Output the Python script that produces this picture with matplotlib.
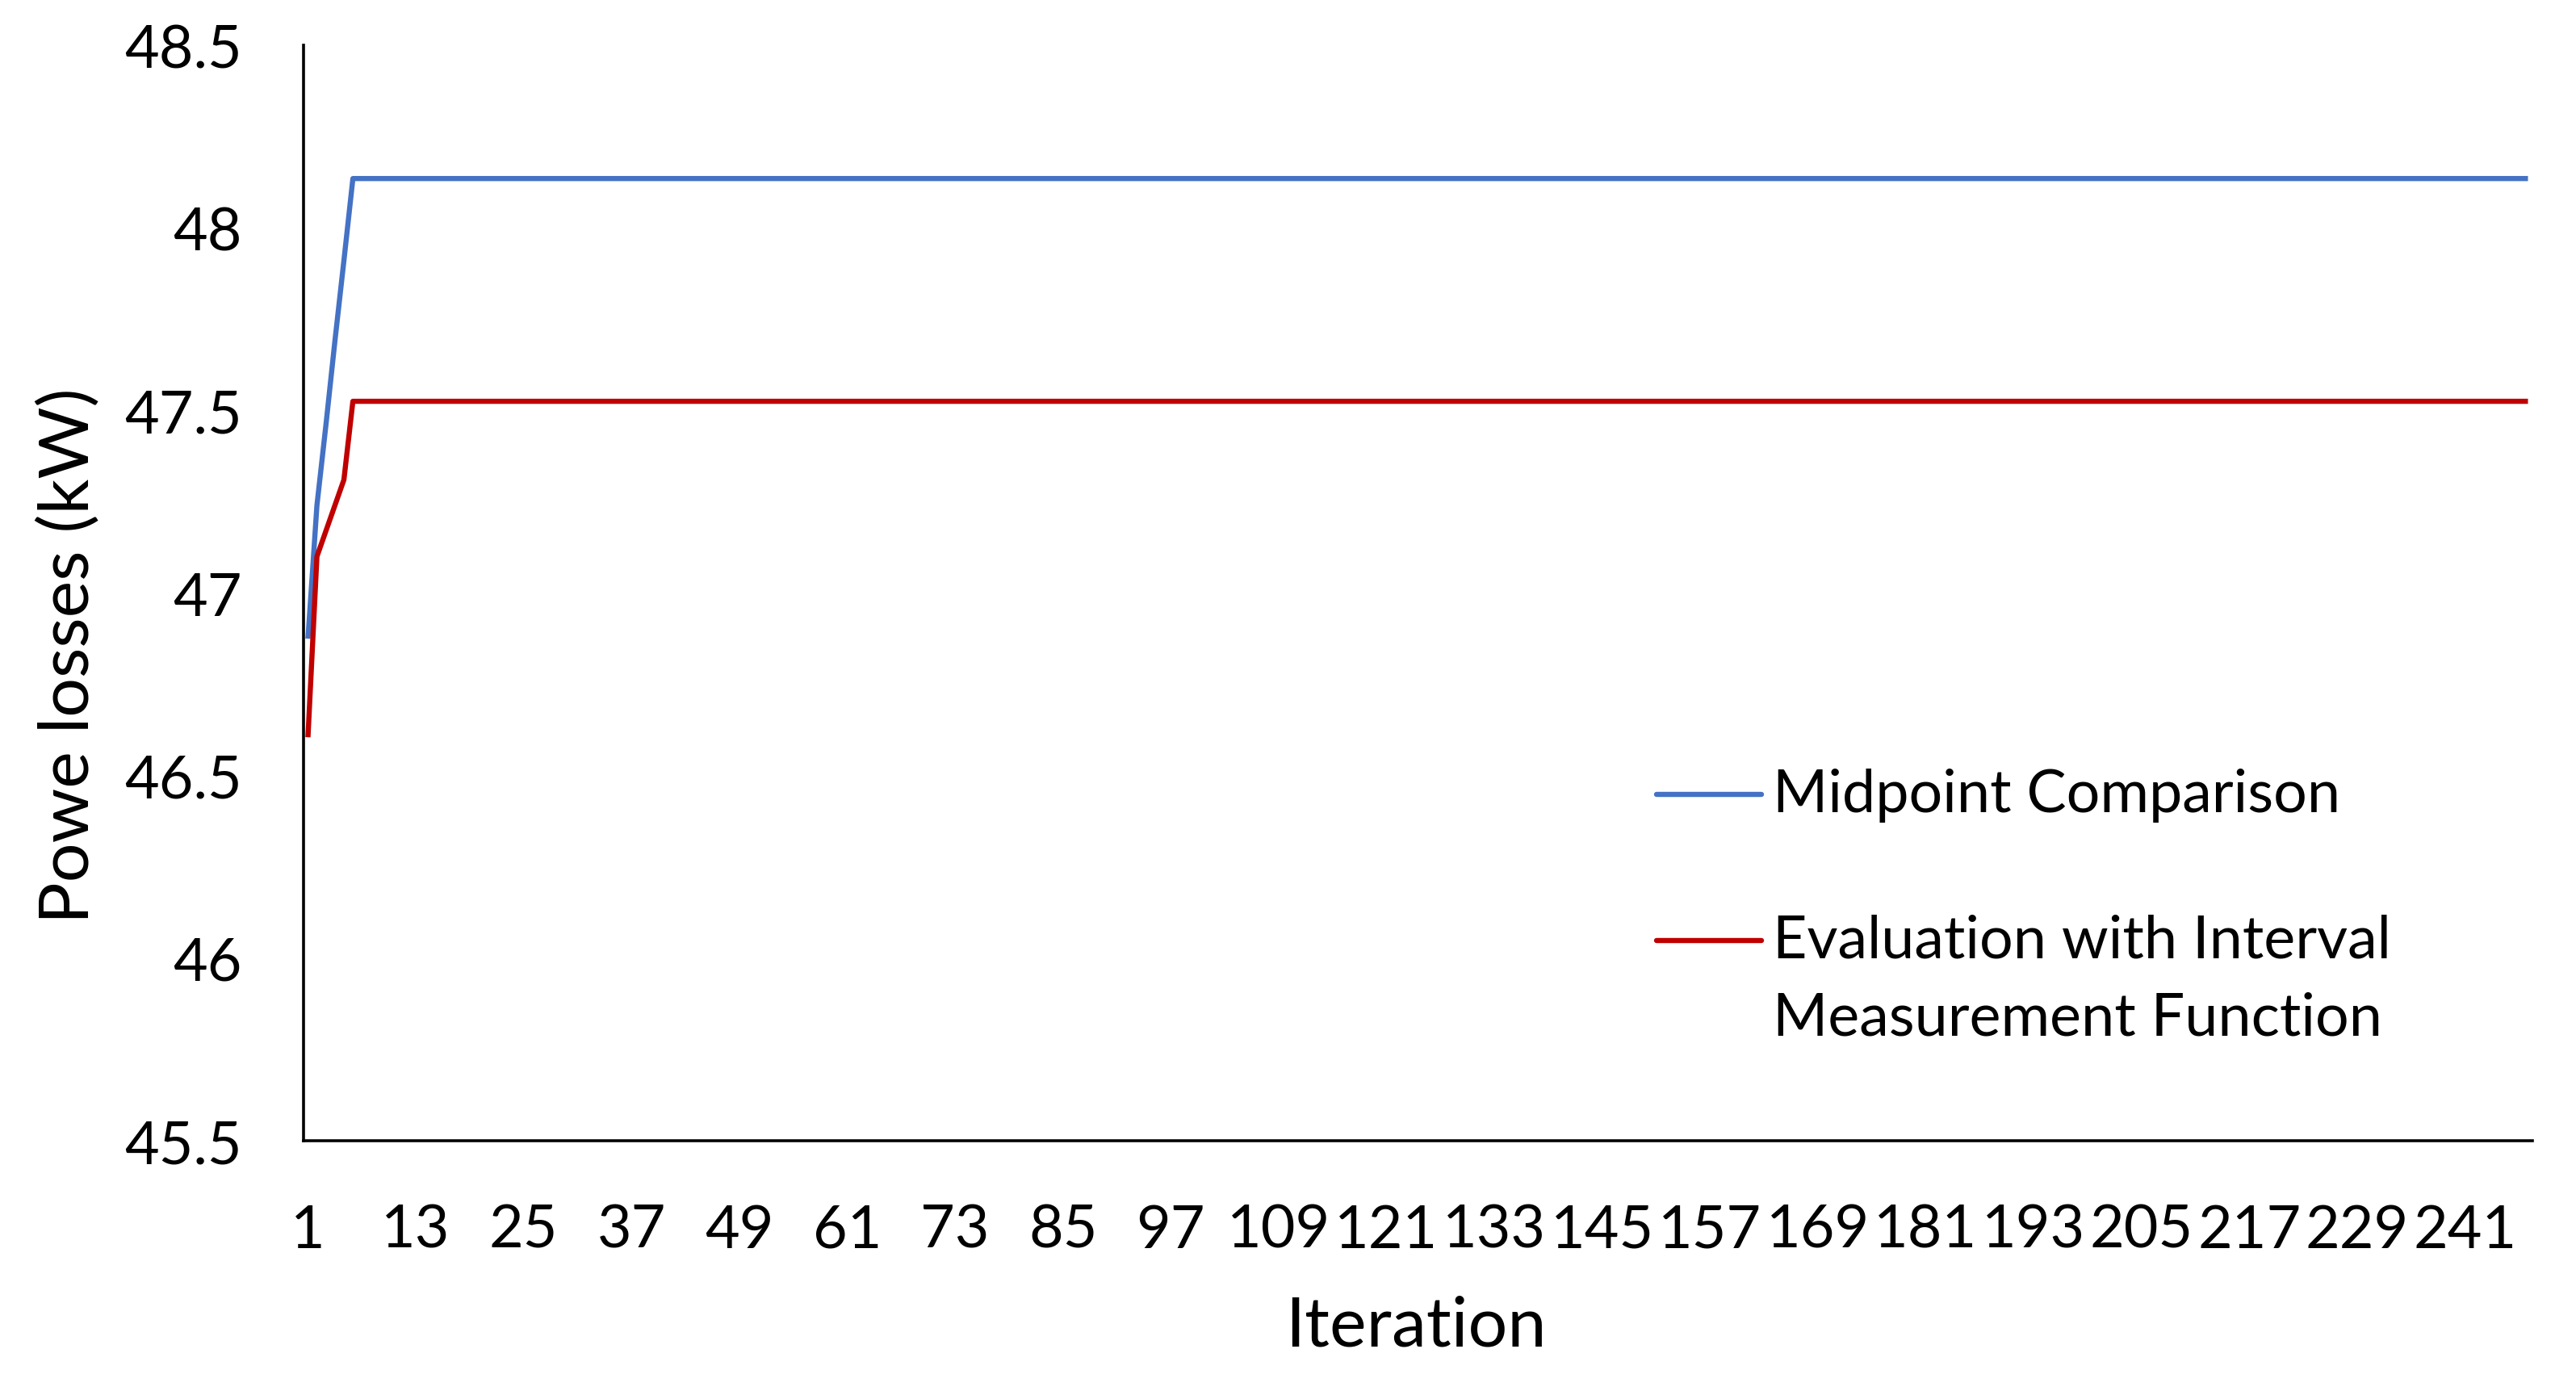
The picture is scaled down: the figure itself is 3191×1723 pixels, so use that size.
import numpy as np
import matplotlib
matplotlib.use("Agg")
import matplotlib.pyplot as plt

plt.rcParams["font.family"] = ["Lato", "DejaVu Sans"]

# values
N_ITER = 248
iterations = np.arange(1, N_ITER + 1)
midpoint_head = [46.875, 47.24, 47.46, 47.69, 47.91]
midpoint_final = 48.135
interval_head = [46.605, 47.10, 47.17, 47.24, 47.31]
interval_final = 47.525
midpoint = midpoint_head + [midpoint_final] * (N_ITER - len(midpoint_head))
interval = interval_head + [interval_final] * (N_ITER - len(interval_head))

x_ticks = list(range(1, 242, 12))
y_ticks = [45.5, 46, 46.5, 47, 47.5, 48, 48.5]
y_ticklabels = ["45.5", "46", "46.5", "47", "47.5", "48", "48.5"]

BLUE = "#4472C4"
RED = "#C00000"

fig = plt.figure(figsize=(31.91, 17.24), dpi=100)
ax = fig.add_axes([0.1178, 0.1798, 0.9831 - 0.1178, 0.9669 - 0.1798])

ax.plot(iterations, midpoint, color=BLUE, lw=4.6, solid_joinstyle="round",
        solid_capstyle="butt", zorder=3)
ax.plot(iterations, interval, color=RED, lw=4.6, solid_joinstyle="round",
        solid_capstyle="butt", zorder=3)

ax.set_xlim(0.5, N_ITER + 0.5)
ax.set_ylim(45.5, 48.5)
ax.set_xticks(x_ticks)
ax.set_xticklabels([str(t) for t in x_ticks])
ax.set_yticks(y_ticks)
ax.set_yticklabels(y_ticklabels)
ax.tick_params(length=0, labelsize=53)
ax.tick_params(axis="y", pad=55)
ax.tick_params(axis="x", pad=56)

for s in ("top", "right"):
    ax.spines[s].set_visible(False)
for s in ("left", "bottom"):
    ax.spines[s].set_linewidth(2.6)
    ax.spines[s].set_color("black")

ax.set_xlabel("Iteration", fontsize=62)
ax.set_ylabel("Powe losses (kW)", fontsize=62)
ax.xaxis.label.set_va("center")
ax.yaxis.label.set_va("center")
ax.xaxis.set_label_coords(0.499, -0.1688)
ax.yaxis.set_label_coords(-0.1054, 0.4436)

# legend drawn by hand so the handle sits on the first text line
tr = ax.transAxes
ax.plot([0.607, 0.654], [0.316, 0.316], color=BLUE, lw=4.6, transform=tr,
        solid_capstyle="round", clip_on=False)
ax.plot([0.607, 0.654], [0.183, 0.183], color=RED, lw=4.6, transform=tr,
        solid_capstyle="round", clip_on=False)
ax.text(0.659, 0.316, "Midpoint Comparison", transform=tr, fontsize=53,
        va="center", ha="left")
ax.text(0.659, 0.183, "Evaluation with Interval", transform=tr, fontsize=53,
        va="center", ha="left")
ax.text(0.659, 0.112, "Measurement Function", transform=tr, fontsize=53,
        va="center", ha="left")

fig.savefig("out.png", dpi=100)
